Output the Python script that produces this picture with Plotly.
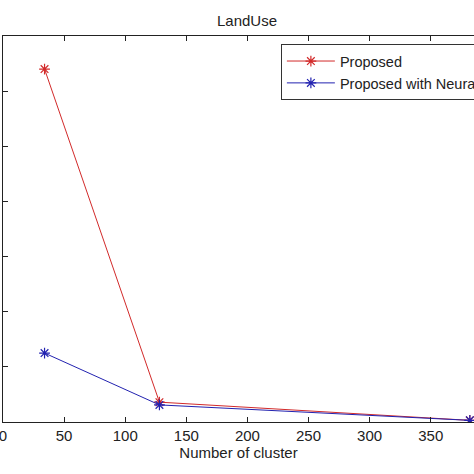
import plotly.graph_objects as go

clusters = [34, 128, 382]
proposed = [6.40, 0.36, 0.03]
proposed_nn = [1.25, 0.31, 0.03]
series_names = ["Proposed", "Proposed with Neural Network"]
x_ticks = [0, 50, 100, 150, 200, 250, 300, 350]
y_ticks = [0, 1, 2, 3, 4, 5, 6, 7]

font_family = "Liberation Sans, Arial, sans-serif"

fig = go.Figure()
fig.add_trace(go.Scatter(
    x=clusters, y=proposed, mode="lines+markers", name=series_names[0],
    line=dict(color="#d22a2a", width=1),
    marker=dict(symbol="asterisk-open", size=9, color="#d22a2a",
                line=dict(color="#d22a2a", width=1.2)),
))
fig.add_trace(go.Scatter(
    x=clusters, y=proposed_nn, mode="lines+markers", name=series_names[1],
    line=dict(color="#2222b0", width=1),
    marker=dict(symbol="asterisk-open", size=9, color="#2222b0",
                line=dict(color="#2222b0", width=1.2)),
))

fig.update_layout(
    width=474, height=474,
    margin=dict(l=3, r=0, t=36, b=52, autoexpand=False),
    paper_bgcolor="white", plot_bgcolor="white",
    font=dict(family=font_family, size=15, color="#222222"),
    title=dict(text="LandUse", x=247 / 474, xanchor="center",
               y=1 - 21 / 474, yanchor="middle",
               font=dict(size=15, color="#222222")),
    showlegend=True,
    legend=dict(x=0.590, y=0.979, xanchor="left", yanchor="top",
                bgcolor="white", bordercolor="#333333", borderwidth=1,
                font=dict(size=14.5, color="#222222"),
                tracegroupgap=0, itemwidth=48),
    xaxis=dict(range=[0, 385.4], tickvals=x_ticks, ticks="inside", ticklen=5,
               tickcolor="#222222", showline=True, linecolor="#222222",
               linewidth=1, mirror="ticks", showgrid=False, zeroline=False,
               ticklabeloverflow="allow", automargin=False,
               title=dict(text="Number of cluster", standoff=3,
                          font=dict(size=15)),
               tickfont=dict(size=15)),
    yaxis=dict(range=[0, 7], tickvals=y_ticks, ticks="inside", ticklen=5,
               tickcolor="#222222", showline=True, linecolor="#222222",
               linewidth=1, mirror=False, showgrid=False, zeroline=False,
               showticklabels=False, automargin=False),
)

fig.write_html(
    "out.html",
    config={"displayModeBar": False},
    post_script="document.body.style.margin='0';document.body.style.overflow='hidden';",
)
